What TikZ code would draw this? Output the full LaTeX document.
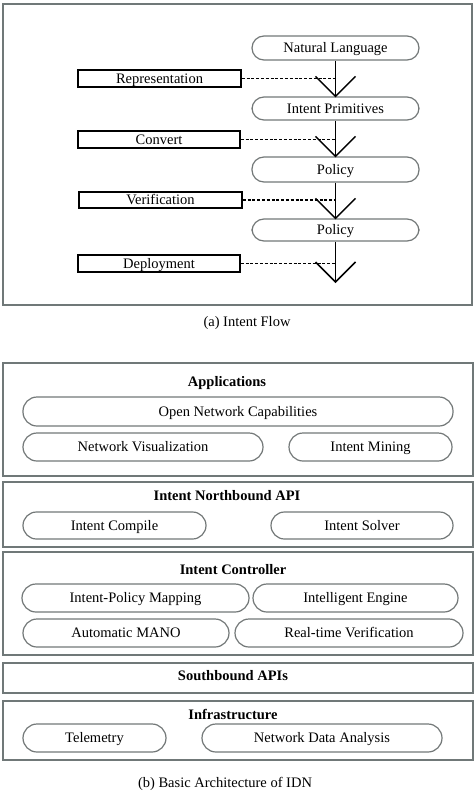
\documentclass[tikz,border=0pt]{standalone}
\usepackage{fontspec}
\setmainfont{Liberation Serif}
\definecolor{framegray}{RGB}{112,120,120}
\definecolor{boxgray}{RGB}{115,120,120}
\begin{document}
\begin{tikzpicture}[x=1pt,y=-1pt,
  font=\fontsize{14.5}{17}\selectfont,
  every node/.style={text height=10pt,text depth=1pt},
  frame/.style={draw=framegray,line width=1.9pt},
  rbox/.style={draw=boxgray,line width=1.2pt,rounded corners=#1,inner sep=0pt},
  rbox/.default=12pt,
  lbox/.style={draw=black,line width=1.4pt,inner sep=0pt},
  flow/.style={draw=black,line width=1.5pt},
  dashln/.style={draw=black,line width=1.2pt,dash pattern=on 3pt off 1.8pt},
  title/.style={font=\fontsize{14.5}{17}\selectfont\bfseries}]
\useasboundingbox[fill=white] (0,0) rectangle (474,792);

% ---------- (a) Intent Flow ----------
\draw[frame] (3,4) rectangle (472,305);
\node[rbox, minimum width=167pt, minimum height=24pt] (nl) at (335.5,48) {Natural Language};
\node[rbox, minimum width=167pt, minimum height=23pt] (ip) at (335.5,108.5) {Intent Primitives};
\node[rbox, minimum width=167pt, minimum height=25pt] (p1) at (335.5,169.5) {Policy};
\node[rbox, minimum width=167pt, minimum height=22pt] (p2) at (335.5,230) {Policy};
\coordinate (end) at (335.5,282);

\node[lbox, minimum width=163pt, minimum height=17pt] (rep) at (159.5,78.5) {Representation};
\node[lbox, minimum width=162pt, minimum height=17pt] (conv) at (159,139.5) {Convert};
\node[lbox, minimum width=163pt, minimum height=16pt] (ver) at (160.5,200) {Verification};
\node[lbox, minimum width=162pt, minimum height=17pt] (dep) at (159,263.5) {Deployment};

\draw[flow] (nl.south) -- (ip.north);
\draw[flow] (ip.north) ++(-20,-20) -- (ip.north) -- ++(20,-20);
\draw[flow] (ip.south) -- (p1.north);
\draw[flow] (p1.north) ++(-20,-20) -- (p1.north) -- ++(20,-20);
\draw[flow] (p1.south) -- (p2.north);
\draw[flow] (p2.north) ++(-20,-20) -- (p2.north) -- ++(20,-20);
\draw[flow] (p2.south) -- (end);
\draw[flow] (end) ++(-20,-20) -- (end) -- ++(20,-20);

\draw[dashln] (rep.east) -- (rep.east -| nl.south);
\draw[dashln] (conv.east) -- (conv.east -| nl.south);
\draw[dashln] (ver.east) -- (ver.east -| nl.south);
\draw[dashln] (dep.east) -- (dep.east -| nl.south);

\node (capa) at (247,322) {(a) Intent Flow};

% ---------- (b) Basic Architecture ----------
\draw[frame] (3,363) rectangle (473,476);
\draw[frame] (3,482) rectangle (473,547);
\draw[frame] (3,552) rectangle (473,655);
\draw[frame] (3,663) rectangle (473,693);
\draw[frame] (3,701) rectangle (473,760);

\node[title] (tapp) at (227,382) {Applications};
\node[rbox=14pt, minimum width=430pt, minimum height=29pt] (onc) at (238,411.5) {Open Network Capabilities};
\node[rbox=14pt, minimum width=240pt, minimum height=28pt] (nv) at (143,447) {Network Visualization};
\node[rbox=14pt, minimum width=163pt, minimum height=28pt] (im) at (370.5,447) {Intent Mining};

\node[title] (tnb) at (227,496) {Intent Northbound API};
\node[rbox=13.5pt, minimum width=183pt, minimum height=27pt] (comp) at (114.5,525.5) {Intent Compile};
\node[rbox=13.5pt, minimum width=182pt, minimum height=27pt] (solv) at (362,525.5) {Intent Solver};

\node[title] (tic) at (233,570) {Intent Controller};
\node[rbox=14pt, minimum width=227pt, minimum height=28pt] (ipm) at (135.5,598) {Intent-Policy Mapping};
\node[rbox=14pt, minimum width=205pt, minimum height=28pt] (ie) at (355.5,598) {Intelligent Engine};
\node[rbox=14pt, minimum width=206pt, minimum height=28pt] (mano) at (126,633) {Automatic MANO};
\node[rbox=14pt, minimum width=228pt, minimum height=28pt] (rtv) at (349,633) {Real-time Verification};

\node[title] (tsb) at (233,676) {Southbound APIs};

\node[title] (tinf) at (233,715) {Infrastructure};
\node[rbox=14pt, minimum width=143pt, minimum height=28pt] (tel) at (94.5,738) {Telemetry};
\node[rbox=14pt, minimum width=240pt, minimum height=28pt] (nda) at (322,738) {Network Data Analysis};

\node (capb) at (225,783) {(b) Basic Architecture of IDN};
\end{tikzpicture}
\end{document}
